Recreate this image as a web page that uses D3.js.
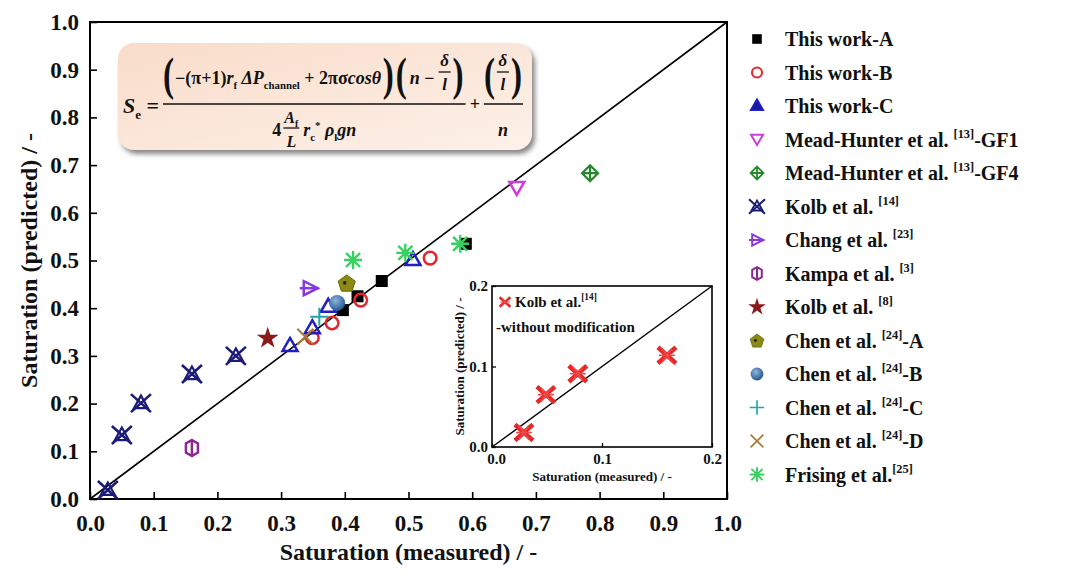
<!DOCTYPE html>
<html>
<head>
<meta charset="UTF-8">
<script src="https://d3js.org/d3.v7.min.js"></script>
<style>
    body { margin: 0; background: #fff; }
    svg text { font-family: "Liberation Serif", "Times New Roman", serif; font-weight: bold; fill: #111; }
</style>
</head>
<body>
<svg id="chart" width="1080" height="580"></svg>
<script>
// values: [measured, predicted]
const thisWorkA = [[0.397, 0.396], [0.420, 0.425], [0.458, 0.457], [0.590, 0.535]];
const thisWorkB = [[0.349, 0.338], [0.380, 0.369], [0.425, 0.417], [0.534, 0.505]];
const thisWorkC = [[0.314, 0.321], [0.349, 0.358], [0.374, 0.403], [0.507, 0.501]];
const meadHunterGF1 = [[0.670, 0.652]];
const meadHunterGF4 = [[0.785, 0.683]];
const kolb14 = [[0.028, 0.019], [0.050, 0.134], [0.080, 0.201], [0.160, 0.262], [0.229, 0.300]];
const chang23 = [[0.345, 0.442]];
const kampa3 = [[0.160, 0.107]];
const kolb8 = [[0.279, 0.337]];
const chenA = [[0.403, 0.453]];
const chenB = [[0.388, 0.411]];
const chenC = [[0.360, 0.382]];
const chenD = [[0.338, 0.340]];
const frising25 = [[0.413, 0.501], [0.495, 0.516], [0.581, 0.535]];
const kolb14NoModification = [[0.029, 0.018], [0.049, 0.065], [0.078, 0.091], [0.159, 0.114]];

const seriesLabels = [
    "This work-A", "This work-B", "This work-C",
    "Mead-Hunter et al. [13]-GF1", "Mead-Hunter et al. [13]-GF4",
    "Kolb et al. [14]", "Chang et al. [23]", "Kampa et al. [3]", "Kolb et al. [8]",
    "Chen et al. [24]-A", "Chen et al. [24]-B", "Chen et al. [24]-C", "Chen et al. [24]-D",
    "Frising et al.[25]"
];
const seriesData = [thisWorkA, thisWorkB, thisWorkC, meadHunterGF1, meadHunterGF4, kolb14,
    chang23, kampa3, kolb8, chenA, chenB, chenC, chenD, frising25];
const seriesMarkers = ["square", "circle", "triUp", "triDown", "diamondCross", "xTri",
    "triRight", "hexBar", "star", "pentagon", "ball", "plus", "cross", "asterisk"];

const mainTicks = [0, 0.1, 0.2, 0.3, 0.4, 0.5, 0.6, 0.7, 0.8, 0.9, 1.0];
const insetTicks = [0, 0.1, 0.2];
const parityLine = [0, 1];
const insetParity = [0, 0.2];

const svg = d3.select("#chart");
const defs = svg.append("defs");

const ballGrad = defs.append("radialGradient").attr("id", "ball").attr("cx", "40%").attr("cy", "35%").attr("r", "65%");
ballGrad.append("stop").attr("offset", "0%").attr("stop-color", "#8db6e0");
ballGrad.append("stop").attr("offset", "100%").attr("stop-color", "#255891");

const boxGrad = defs.append("linearGradient").attr("id", "boxfill").attr("x1", 0).attr("y1", 0).attr("x2", 1).attr("y2", 1);
boxGrad.append("stop").attr("offset", "0%").attr("stop-color", "#f9dcc9");
boxGrad.append("stop").attr("offset", "100%").attr("stop-color", "#fdf1e9");

const shadow = defs.append("filter").attr("id", "shadow").attr("x", "-10%").attr("y", "-10%").attr("width", "130%").attr("height", "140%");
shadow.append("feDropShadow").attr("dx", 3).attr("dy", 4).attr("stdDeviation", 2.5).attr("flood-color", "#555").attr("flood-opacity", 0.7);

const x = d3.scaleLinear().domain([0, 1]).range([90, 727]);
const y = d3.scaleLinear().domain([0, 1]).range([499, 22]);

// markers
function marker(g, type, cx, cy, s, filled) {
    const m = g.append("g").attr("transform", `translate(${cx},${cy}) scale(${s})`);
    const path = (d, col, w) => m.append("path").attr("d", d).attr("fill", "none")
        .attr("stroke", col).attr("stroke-width", w).attr("stroke-linejoin", "miter");
    switch (type) {
        case "square":
            m.append("rect").attr("x", -6).attr("y", -6).attr("width", 12).attr("height", 12).attr("fill", "#000");
            break;
        case "circle":
            m.append("circle").attr("r", 6.3).attr("fill", "none").attr("stroke", "#e3262b").attr("stroke-width", 2.5);
            break;
        case "triUp":
            path("M0,-8L7.5,5L-7.5,5Z", "#1f1fc4", 2.5).attr("fill", filled ? "#1a1a96" : "none");
            break;
        case "triDown":
            path("M0,7L7.5,-6L-7.5,-6Z", "#cc3fd8", 2.5);
            break;
        case "diamondCross":
            path("M0,-8L8,0L0,8L-8,0ZM-8,0H8M0,-8V8", "#24882c", 2.2);
            break;
        case "xTri":
            path("M-10,-9L10,9M10,-9L-10,9", "#1c1c78", 2.6);
            path("M0,-7.5L7,5L-7,5Z", "#1c1c78", 2.2);
            break;
        case "triRight":
            path("M-6,-7L8,0L-6,7Z", "#8a38dc", 2.5);
            path("M-10,0H9", "#8a38dc", 2.5);
            break;
        case "hexBar":
            path("M0,-8L6,-4.5L6,4.5L0,8L-6,4.5L-6,-4.5ZM0,-8V8", "#8d2890", 2.5);
            break;
        case "star":
            m.append("path").attr("d", d3.symbol(d3.symbolStar).size(150)()).attr("fill", "#8c1a1a");
            break;
        case "pentagon": {
            const pts = d3.range(5).map(i => {
                const a = -Math.PI / 2 + i * 2 * Math.PI / 5;
                return [9 * Math.cos(a), 9 * Math.sin(a) + 1];
            });
            m.append("path").attr("d", "M" + pts.join("L") + "Z").attr("fill", "#8a8a14").attr("stroke", "#6a6a08").attr("stroke-width", 1);
            m.append("circle").attr("cx", -2).attr("cy", 0).attr("r", 1.8).attr("fill", "#222");
            break;
        }
        case "ball":
            m.append("circle").attr("r", 8).attr("fill", "url(#ball)");
            break;
        case "plus":
            path("M-9,0H9M0,-9V9", "#20a6a6", 2);
            break;
        case "cross":
            path("M-8,-8L8,8M8,-8L-8,8", "#a87838", 2);
            break;
        case "asterisk":
            path("M-9,0H9M0,-9V9M-7,-7L7,7M7,-7L-7,7", "#38d060", 2.4);
            break;
        case "redX":
            path("M-9,-8L9,8M9,-8L-9,8", "#e62828", 4.5);
            path("M-5,-7L5,7M5,-7L-5,7M-8,0H8", "#f04848", 1.6);
            break;
    }
    return m;
}

// label with one bracketed superscript
function labelText(g, tx, ty, label, fs) {
    const t = g.append("text").attr("x", tx).attr("y", ty).attr("font-size", fs);
    const mm = label.match(/^(.*?)(\[\d+\])(.*)$/);
    if (!mm) { t.text(label); return t; }
    t.append("tspan").text(mm[1]);
    t.append("tspan").attr("dy", -fs * 0.45).attr("font-size", fs * 0.62).text(mm[2]);
    t.append("tspan").attr("dy", fs * 0.45).text(mm[3]);
    return t;
}

// parity line
svg.append("path")
    .datum(parityLine)
    .attr("d", d3.line().x(d => x(d)).y(d => y(d)))
    .attr("stroke", "#000").attr("stroke-width", 1.6).attr("fill", "none");

// axes
const xAxis = svg.append("g").attr("transform", "translate(0,499)")
    .call(d3.axisBottom(x).tickValues(mainTicks).tickFormat(d3.format(".1f")).tickSizeInner(-7).tickSizeOuter(0).tickPadding(16));
const yAxis = svg.append("g").attr("transform", "translate(90,0)")
    .call(d3.axisLeft(y).tickValues(mainTicks).tickFormat(d3.format(".1f")).tickSizeInner(-7).tickSizeOuter(0).tickPadding(11));
[xAxis, yAxis].forEach(a => {
    a.select(".domain").remove();
    a.selectAll("line").attr("stroke", "#000").attr("stroke-width", 1.6);
    a.selectAll("text").attr("font-size", 23).attr("font-family", null).attr("fill", "#111");
});
svg.append("rect").attr("x", x(0)).attr("y", y(1)).attr("width", x(1) - x(0)).attr("height", y(0) - y(1))
    .attr("fill", "none").attr("stroke", "#000").attr("stroke-width", 2);

svg.append("text").attr("x", (x(0) + x(1)) / 2).attr("y", 560).attr("text-anchor", "middle").attr("font-size", 24)
    .text("Saturation (measured) / -");
svg.append("text").attr("transform", `translate(37,${(y(0) + y(1)) / 2}) rotate(-90)`).attr("text-anchor", "middle").attr("font-size", 24)
    .text("Saturation (predicted) / -");

// data markers
const plot = svg.append("g");
seriesData.forEach((pts, i) => {
    pts.forEach(p => marker(plot, seriesMarkers[i], x(p[0]), y(p[1]), 1, false));
});

// legend
const legend = svg.append("g");
seriesLabels.forEach((lab, i) => {
    const cy = 39 + i * 33.5;
    marker(legend, seriesMarkers[i], 757, cy, 0.8, seriesMarkers[i] === "triUp");
    labelText(legend, 785, cy + 7, lab, 20);
});

// formula box
const fbox = svg.append("g");
fbox.append("rect").attr("x", 118).attr("y", 43).attr("width", 414).attr("height", 107).attr("rx", 16)
    .attr("fill", "url(#boxfill)").attr("filter", "url(#shadow)");

// text with sub/superscripts, returns its right edge
function rich(g, tx, ty, segs, fs, anchor) {
    const t = g.append("text").attr("x", tx).attr("y", ty).attr("font-size", fs).attr("text-anchor", anchor || "start");
    let cur = 0;
    segs.forEach(s => {
        const seg = typeof s === "string" ? { t: s } : s;
        const off = seg.sub ? fs * 0.28 : seg.sup ? -fs * 0.4 : 0;
        t.append("tspan").attr("dy", off - cur).attr("font-size", (seg.sub || seg.sup) ? fs * 0.6 : fs)
            .attr("font-style", seg.it ? "italic" : null).text(seg.t);
        cur = off;
    });
    const b = t.node().getBBox();
    return b.x + b.width;
}
function smallFrac(g, cx, top, bot, bar, a, b, fs, half) {
    rich(g, cx, top, a, fs, "middle");
    rich(g, cx, bot, b, fs, "middle");
    g.append("line").attr("x1", cx - half).attr("x2", cx + half).attr("y1", bar).attr("y2", bar)
        .attr("stroke", "#111").attr("stroke-width", 1.3);
    return cx + half;
}
function bigParen(g, px, py, ch) {
    const t = g.append("text").attr("x", px).attr("y", py).attr("font-size", 46).attr("font-weight", "normal")
        .attr("transform", `translate(${px},0) scale(0.72,1) translate(${-px},0)`).text(ch);
    return px + t.node().getBBox().width * 0.72;
}

const fs = 18;
rich(fbox, 123, 113, [{ t: "S", it: true }, { t: "e", sub: true }, " ="], 22);
let nx = bigParen(fbox, 163, 90, "(");
nx = rich(fbox, nx + 1, 84, ["−(π+1)", { t: "r", it: true }, { t: "f", sub: true }, " ", { t: "ΔP", it: true },
    { t: "channel", sub: true }, " + 2πσ", { t: "cosθ", it: true }], fs);
nx = bigParen(fbox, nx + 1, 90, ")");
nx = bigParen(fbox, nx + 2, 90, "(");
nx = rich(fbox, nx + 3, 84, [{ t: "n", it: true }, " −"], fs);
nx = smallFrac(fbox, nx + 10, 66, 90, 72, [{ t: "δ", it: true }], [{ t: "l", it: true }], 17, 6);
nx = bigParen(fbox, nx + 2, 90, ")");
const barEnd = nx + 2;
fbox.append("line").attr("x1", 163).attr("x2", barEnd).attr("y1", 104).attr("y2", 104).attr("stroke", "#111").attr("stroke-width", 1.4);

// denominator, centred under the bar
const den = fbox.append("g");
let dx = rich(den, 0, 136, ["4"], fs);
dx = smallFrac(den, dx + 10, 123, 147, 128, [{ t: "A", it: true }, { t: "f", sub: true }], [{ t: "L", it: true }], 16, 8);
rich(den, dx + 4, 136, [{ t: "r", it: true }, { t: "c", sub: true }, { t: "*", sup: true }, " ", { t: "ρ", it: true },
    { t: "l", sub: true }, { t: "gn", it: true }], fs);
const dbox = den.node().getBBox();
den.attr("transform", `translate(${(163 + barEnd) / 2 - dbox.width / 2},0)`);

// + (δ/l)/n
const plusEnd = rich(fbox, barEnd + 4, 110, ["+"], fs);
const rx = plusEnd + 4;
let rEnd = bigParen(fbox, rx, 90, "(");
rEnd = smallFrac(fbox, rEnd + 8, 66, 90, 72, [{ t: "δ", it: true }], [{ t: "l", it: true }], 17, 6);
rEnd = bigParen(fbox, rEnd + 2, 90, ")");
fbox.append("line").attr("x1", rx).attr("x2", rEnd + 1).attr("y1", 104).attr("y2", 104).attr("stroke", "#111").attr("stroke-width", 1.4);
rich(fbox, (rx + rEnd) / 2, 136, [{ t: "n", it: true }], fs, "middle");

// inset
const x2 = d3.scaleLinear().domain([0, 0.2]).range([492, 712]);
const y2 = d3.scaleLinear().domain([0, 0.2]).range([447, 286]);
const inset = svg.append("g");
inset.append("rect").attr("x", x2(0)).attr("y", y2(0.2)).attr("width", x2(0.2) - x2(0)).attr("height", y2(0) - y2(0.2))
    .attr("fill", "#fff");
inset.append("path").datum(insetParity).attr("d", d3.line().x(d => x2(d)).y(d => y2(d)))
    .attr("stroke", "#000").attr("stroke-width", 1.4).attr("fill", "none");
const ix = inset.append("g").attr("transform", `translate(0,${y2(0)})`)
    .call(d3.axisBottom(x2).tickValues(insetTicks).tickFormat(d3.format(".1f")).tickSizeInner(-4).tickSizeOuter(0).tickPadding(6));
const iy = inset.append("g").attr("transform", `translate(${x2(0)},0)`)
    .call(d3.axisLeft(y2).tickValues(insetTicks).tickFormat(d3.format(".1f")).tickSizeInner(-4).tickSizeOuter(0).tickPadding(4));
[ix, iy].forEach(a => {
    a.select(".domain").remove();
    a.selectAll("line").attr("stroke", "#000").attr("stroke-width", 1.3);
    a.selectAll("text").attr("font-size", 15).attr("font-family", null).attr("fill", "#111");
});
ix.selectAll("text").filter(d => d === 0).attr("dx", 4);
inset.append("rect").attr("x", x2(0)).attr("y", y2(0.2)).attr("width", x2(0.2) - x2(0)).attr("height", y2(0) - y2(0.2))
    .attr("fill", "none").attr("stroke", "#000").attr("stroke-width", 1.6);
kolb14NoModification.forEach(p => marker(inset, "redX", x2(p[0]), y2(p[1]), 1, false));
inset.append("text").attr("x", (x2(0) + x2(0.2)) / 2).attr("y", 481).attr("text-anchor", "middle").attr("font-size", 13)
    .text("Saturation (measured) / -");
inset.append("text").attr("transform", `translate(464,${(y2(0) + y2(0.2)) / 2}) rotate(-90)`).attr("text-anchor", "middle").attr("font-size", 13)
    .text("Saturation (predicted) / -");
marker(inset, "redX", 505, 302, 0.6, false);
labelText(inset, 515, 307, "Kolb et al.[14]", 15);
inset.append("text").attr("x", 496).attr("y", 332).attr("font-size", 15).text("-without modification");
</script>
</body>
</html>
